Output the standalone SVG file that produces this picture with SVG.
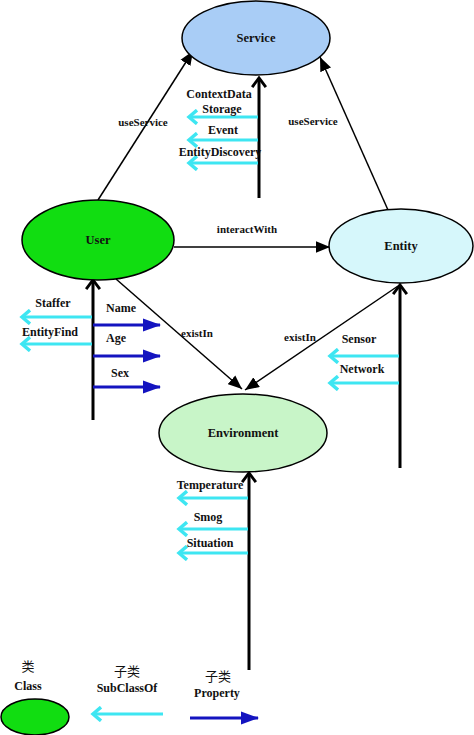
<svg xmlns="http://www.w3.org/2000/svg" width="474" height="735" viewBox="0 0 474 735">
<style>
text{font-family:"Liberation Serif","Times New Roman",serif;font-weight:bold;fill:#111;text-anchor:middle;}
.lbl{font-size:12px;}
.edge{font-size:11px;}
.node{font-size:12.5px;}
.cjk{font-family:"Noto Sans CJK SC",sans-serif;font-weight:normal;font-size:13px;}
.ell{stroke:#000;stroke-width:1.5;}
.conn{stroke:#000;stroke-width:1.5;fill:none;marker-end:url(#ah);}
.axis{stroke:#000;stroke-width:3;fill:none;marker-end:url(#chev);}
.sub{stroke:#3ee6f2;stroke-width:3;fill:none;marker-end:url(#cchev);}
.prop{stroke:#1414c0;stroke-width:3;fill:none;marker-end:url(#tri);}
</style>
<defs>
<marker id="ah" markerUnits="userSpaceOnUse" markerWidth="14" markerHeight="12" refX="12" refY="5" orient="auto" viewBox="0 0 12 10"><path d="M0,0 L12,5 L0,10 z" fill="#000"/></marker>
<marker id="chev" markerUnits="userSpaceOnUse" markerWidth="16" markerHeight="16" refX="10" refY="7" orient="auto" viewBox="0 0 12 14"><path d="M2,1 L10,7 L2,13" fill="none" stroke="#000" stroke-width="2.5"/></marker>
<marker id="cchev" markerUnits="userSpaceOnUse" markerWidth="16" markerHeight="16" refX="10" refY="7" orient="auto" viewBox="0 0 12 14"><path d="M3,1 L10,7 L3,13" fill="none" stroke="#3ee6f2" stroke-width="3"/></marker>
<marker id="tri" markerUnits="userSpaceOnUse" markerWidth="18" markerHeight="14" refX="17" refY="6.5" orient="auto" viewBox="0 0 18 13"><path d="M0,0 L18,6.5 L0,13 z" fill="#1414c0"/></marker>
</defs>
<rect width="474" height="735" fill="#fff"/>
<g id="connectors">
<line class="conn" x1="98" y1="200" x2="193" y2="51"/>
<line class="conn" x1="388" y1="210" x2="320" y2="57"/>
<line class="conn" x1="174" y1="247" x2="330" y2="247"/>
<line class="conn" x1="116" y1="279" x2="242" y2="389"/>
<line class="conn" x1="398" y1="286" x2="245" y2="390"/>
<line class="axis" x1="259" y1="198" x2="259" y2="78"/>
<line class="axis" x1="93" y1="420" x2="93" y2="280"/>
<line class="axis" x1="400" y1="468" x2="400" y2="285"/>
<line class="axis" x1="249" y1="670" x2="249" y2="473"/>
<line class="sub" x1="258" y1="117" x2="189" y2="117"/>
<line class="sub" x1="258" y1="140" x2="189" y2="140"/>
<line class="sub" x1="258" y1="163" x2="189" y2="163"/>
<line class="sub" x1="92" y1="317" x2="22" y2="317"/>
<line class="sub" x1="92" y1="344" x2="22" y2="344"/>
<line class="prop" x1="93" y1="325" x2="160" y2="325"/>
<line class="prop" x1="93" y1="356" x2="160" y2="356"/>
<line class="prop" x1="93" y1="387" x2="160" y2="387"/>
<line class="sub" x1="399" y1="356" x2="330" y2="356"/>
<line class="sub" x1="399" y1="383" x2="330" y2="383"/>
<line class="sub" x1="248" y1="498" x2="179" y2="498"/>
<line class="sub" x1="248" y1="529" x2="179" y2="529"/>
<line class="sub" x1="248" y1="553" x2="179" y2="553"/>
<line class="sub" x1="163" y1="714" x2="93" y2="714"/>
<line class="prop" x1="190" y1="718" x2="258" y2="718"/>
<text class="edge" x="143" y="126">useService</text>
<text class="edge" x="313" y="125">useService</text>
<text class="edge" x="247" y="233">interactWith</text>
<text class="edge" x="197" y="337">existIn</text>
<text class="edge" x="300" y="341">existIn</text>
<text class="lbl" x="219" y="98">ContextData</text>
<text class="lbl" x="222" y="113">Storage</text>
<text class="lbl" x="223" y="134">Event</text>
<text class="lbl" x="220" y="156">EntityDiscovery</text>
<text class="lbl" x="53" y="307">Staffer</text>
<text class="lbl" x="50" y="336">EntityFind</text>
<text class="lbl" x="121" y="312">Name</text>
<text class="lbl" x="116" y="342">Age</text>
<text class="lbl" x="120" y="377">Sex</text>
<text class="lbl" x="359" y="343">Sensor</text>
<text class="lbl" x="362" y="373">Network</text>
<text class="lbl" x="210" y="489">Temperature</text>
<text class="lbl" x="208" y="521">Smog</text>
<text class="lbl" x="210" y="547">Situation</text>
</g>
<g id="service">
<ellipse class="ell" cx="256" cy="38" rx="74" ry="37" fill="#a9cdf6"/>
<text class="node" x="256" y="42">Service</text>
</g>
<g id="user">
<ellipse class="ell" cx="98" cy="240" rx="76" ry="40" fill="#11dd11"/>
<text class="node" x="98" y="244">User</text>
</g>
<g id="entity">
<ellipse class="ell" cx="401" cy="246" rx="72" ry="37" fill="#d6f7fb"/>
<text class="node" x="401" y="250">Entity</text>
</g>
<g id="environment">
<ellipse class="ell" cx="243" cy="433" rx="84" ry="39" fill="#c8f5c8"/>
<text class="node" x="243" y="437">Environment</text>
</g>
<g id="legend">
<ellipse class="ell" cx="35" cy="717" rx="34" ry="18" fill="#11dd11"/>
<text class="cjk" x="28" y="671">类</text>
<text class="lbl" x="28" y="690">Class</text>
<text class="cjk" x="127" y="676">子类</text>
<text class="lbl" x="127" y="692">SubClassOf</text>
<text class="cjk" x="218" y="681">子类</text>
<text class="lbl" x="217" y="697">Property</text>
</g>
</svg>
